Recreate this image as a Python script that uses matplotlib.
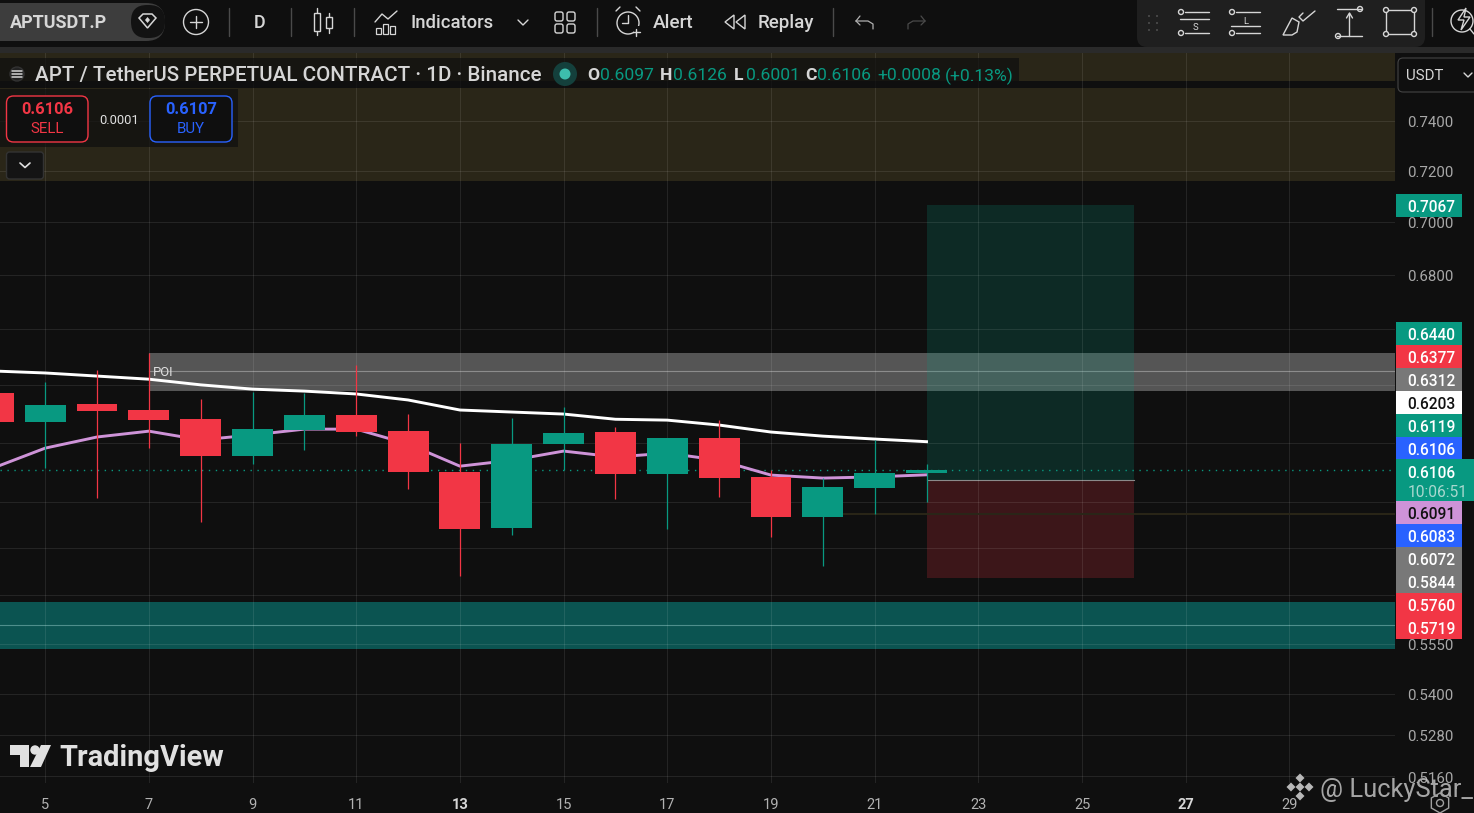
import matplotlib
matplotlib.use('Agg')
import matplotlib.pyplot as plt
from matplotlib.patches import Circle, FancyBboxPatch, Polygon, Rectangle
from matplotlib.ticker import NullFormatter, NullLocator
from matplotlib.transforms import ScaledTranslation
import math

plt.rcParams['font.family'] = ['Roboto', 'DejaVu Sans']

# candles, one per day of the month
days = [4, 5, 6, 7, 8, 9, 10, 11, 12, 13, 14, 15, 16, 17, 18, 19, 20, 21, 22]
opens = [.6371, .6270, .6333, .6312, .6280, .6154, .6243, .6294, .6239, .6100, .5915, .6195, .6236, .6094, .6215, .6084, .5951, .6047, .6097]
highs = [.6371, .6410, .6453, .6513, .6350, .6375, .6371, .6470, .6298, .6198, .6284, .6322, .6253, .6215, .6277, .6106, .6080, .6209, .6126]
lows = [.6270, .6114, .6013, .6181, .5934, .6127, .6174, .6222, .6043, .5761, .5892, .6106, .6010, .5911, .6017, .5886, .5793, .5961, .6001]
closes = [.6270, .6329, .6308, .6277, .6154, .6246, .6294, .6236, .6100, .5911, .6195, .6233, .6094, .6215, .6080, .5951, .6050, .6097, .6106]

ma_slow = [.6449, .6442, .6431, .6420, .6400, .6385, .6378, .6368, .6347, .6312, .6305, .6298, .6280, .6277, .6260, .6236, .6222, .6212, .6203]
ma_fast = [.6114, .6181, .6219, .6239, .6209, .6226, .6246, .6246, .6195, .6120, .6140, .6171, .6151, .6164, .6140, .6090, .6080, .6084, .6091]

date_ticks = [5, 7, 9, 11, 13, 15, 17, 19, 21, 23, 25, 27, 29]
bold_dates = [13, 27]
price_ticks = [.74, .72, .70, .68, .66, .64, .62, .60, .585, .57, .555, .54, .528, .516]
# the ones in the stack of tags can't be seen, so they stay blank
price_labels = ['0.7400', '0.7200', '0.7000', '0.6800', '', '', '', '', '', '', '0.5550', '0.5400', '0.5280', '0.5160']

last_price = .6106
stop_line = .5960
poi_zone = (.6378, .6513, .6449)
teal_zone = (.5534, .5679, .5608)
olive_zones = [(.7160, .7536), (.7565, .7800)]
long_box = (22, 26, .7067, .6072, .5755)

# price tags on the scale, top to bottom
tag_texts = ['0.6440', '0.6377', '0.6312', '0.6203', '0.6119', '0.6106', '0.6091', '0.6083', '0.6072', '0.5844', '0.5760', '0.5719']
tag_colors = ['#089981', '#f23645', '#787878', '#ffffff', '#089981', '#2962ff', '#ce93d8', '#2962ff', '#787878', '#787878', '#f23645', '#f23645']
tag_inks = ['#ffffff', '#ffffff', '#ffffff', '#111111', '#ffffff', '#ffffff', '#111111', '#ffffff', '#ffffff', '#ffffff', '#ffffff', '#ffffff']

BG = '#0f0f0f'
GREEN = '#089981'
RED = '#f23645'
INK = '#d6d6d6'

W, H = 1474, 813
fig = plt.figure(figsize=(W / 100, H / 100), dpi=100, facecolor=BG)

# chart pane, from pixel 53 to 783 down and 0 to 1395 across
ax = fig.add_axes([0, 1 - 783 / H, 1395 / W, 730 / H], facecolor=BG)
ax.set_yscale('log')
ax.set_xlim(4.129, 31.036)
ax.set_ylim(.5141, .7682)

for low, high in olive_zones:
	ax.axhspan(low, high, color='#2a2618', lw=0, zorder=1)
ax.fill_between([7, 31.04], poi_zone[0], poi_zone[1], color='#555555', lw=0, zorder=1)
ax.plot([7, 31.04], [poi_zone[2]] * 2, color='#8c8c8c', lw=.8, zorder=1.2)
ax.axhspan(teal_zone[0], teal_zone[1], color='#0b5451', lw=0, zorder=1)
ax.axhline(teal_zone[2], color='#4f8f8c', lw=.8, zorder=1.2)

x0, x1, target, entry, stop = long_box
ax.fill_between([x0, x1], entry, target, color=GREEN, alpha=.2, lw=0, zorder=1.5)
ax.fill_between([x0, x1], stop, entry, color=RED, alpha=.2, lw=0, zorder=1.5)
ax.plot([x0, x1], [entry, entry], color='#8a8a8a', lw=.8, zorder=1.6)

ax.set_xticks(date_ticks)
ax.set_xticklabels([str(d) for d in date_ticks], fontsize=10.5, color='#b2b2b2')
for lab, d in zip(ax.get_xticklabels(), date_ticks):
	if d in bold_dates:
		lab.set_fontweight('bold')
		lab.set_color('#d6d6d6')
ax.yaxis.tick_right()
ax.set_yticks(price_ticks)
ax.set_yticklabels(price_labels, fontsize=10.8, color='#a8a8a8', va='center_baseline')
ax.yaxis.set_minor_locator(NullLocator())
ax.yaxis.set_minor_formatter(NullFormatter())
ax.tick_params(axis='both', length=0)
ax.tick_params(axis='x', pad=10.6)
ax.tick_params(axis='y', pad=8.8)
for t in ax.yaxis.get_major_ticks():
	# one pixel lower, the way the scale sits in the screenshot
	t.label2.set_transform(t.label2.get_transform() + ScaledTranslation(0, -1 / 100, fig.dpi_scale_trans))
ax.grid(True, color='#ffffff', alpha=.09, lw=.8)
ax.set_axisbelow(False)
for s in ax.spines.values():
	s.set_visible(False)

ax.plot([20.4, 31.04], [stop_line, stop_line], color='#2a2618', lw=1.4, zorder=2.8)
ax.axhline(last_price, color=GREEN, lw=1, ls=(0, (1, 4)), zorder=2.9)
ax.plot(days, ma_fast, color='#ce93d8', lw=2.1, zorder=3)
ax.plot(days, ma_slow, color='#ffffff', lw=2.1, zorder=3.1)

colors = [GREEN if c >= o else RED for o, c in zip(opens, closes)]
ax.vlines(days, lows, highs, colors=colors, lw=.9, zorder=4)
ax.bar(days, [abs(c - o) for o, c in zip(opens, closes)], bottom=[min(o, c) for o, c in zip(opens, closes)],
	width=.79, color=colors, lw=0, zorder=5)
ax.text(7.07, poi_zone[2], 'POI', color='#e0e0e0', fontsize=9.4, va='center_baseline', zorder=6)


# everything around the chart is drawn on a pixel layer
ui = fig.add_axes([0, 0, 1, 1])
ui.set_xlim(0, W)
ui.set_ylim(H, 0)
ui.axis('off')
ui.patch.set_alpha(0)

def box(x0, y0, x1, y1, color, radius=0, edge='none', lw=0, alpha=1, z=2):
	if radius:
		p = FancyBboxPatch((x0 + radius, y0 + radius), x1 - x0 - 2 * radius, y1 - y0 - 2 * radius,
			boxstyle=f'round,pad={radius},rounding_size={radius}', fc=color, ec=edge, lw=lw, alpha=alpha, zorder=z)
	else:
		p = Rectangle((x0, y0), x1 - x0, y1 - y0, fc=color, ec=edge, lw=lw, alpha=alpha, zorder=z)
	ui.add_patch(p)

def seg(xs, ys, color=INK, lw=1, z=4):
	ui.plot(xs, ys, color=color, lw=lw, zorder=z, solid_capstyle='round')

def ring(x, y, r, color=INK, lw=1, fill='none', z=4):
	ui.add_patch(Circle((x, y), r, fc=fill, ec=color, lw=lw, zorder=z))

def label(x, y, s, px=15, color=INK, ha='left', weight='normal', z=5, alpha=1):
	ui.text(x, y + .5, s, fontsize=px * .72, color=color, ha=ha, va='center_baseline', fontweight=weight, zorder=z, alpha=alpha)

# top bar
box(0, 0, W, 47, BG, z=1)
box(0, 47, W, 53, '#2a2a2a', z=1)
box(-20, 3, 165, 41, '#3d3d3d', radius=19)
box(131, 5, 165, 38, '#121212', radius=16, z=3)
label(10, 20.5, 'APTUSDT.P', 18, weight='bold')
ui.add_patch(Polygon([(139, 18), (143, 14), (152, 14), (156, 18), (147.5, 28)], fc='none', ec=INK, lw=1.1, zorder=4))
ui.add_patch(Polygon([(147.5, 17), (150, 20), (147.5, 23), (145, 20)], fc=INK, ec='none', zorder=4))
ring(196, 22, 12.5)
seg([190, 202], [22, 22])
seg([196, 196], [16, 28])
for x in [229, 291, 354, 597, 833]:
	seg([x, x], [8, 36], '#4a4a4a', 1)
label(260, 21, 'D', 18, ha='center', weight='medium')
# candle icon
seg([317, 317], [8, 35])
seg([329, 329], [13, 33])
box(314, 13, 320, 31, BG, edge=INK, lw=1, z=5)
box(326, 17, 332, 28, BG, edge=INK, lw=1, z=5)
# indicators icon
seg([375, 382, 388, 397], [22, 14, 19, 11])
for x, t in [(376, 28), (383, 24), (390, 26)]:
	box(x, t, x + 5, 34, BG, edge=INK, lw=.9)
label(411, 20.5, 'Indicators', 18.5, weight='medium')
seg([518, 523, 528], [20, 25, 20])
for x in [555, 567]:
	for y in [12, 24]:
		box(x, y, x + 8, y + 9, BG, radius=2, edge=INK, lw=1)
# alert icon
ring(628, 23, 11)
seg([628, 628, 622], [15, 23, 23])
seg([616, 620], [11, 7])
seg([636, 640], [7, 11])
box(634, 26, 645, 38, BG, z=4)
seg([636, 636], [29, 36])
seg([633, 640], [32, 32])
label(653, 20.5, 'Alert', 19, weight='medium')
ui.add_patch(Polygon([(734, 15), (725, 22), (734, 29)], fc='none', ec=INK, lw=1))
ui.add_patch(Polygon([(745, 15), (736, 22), (745, 29)], fc='none', ec=INK, lw=1))
label(758, 20.5, 'Replay', 18.8, weight='medium')
seg([856, 860], [21, 16], '#b0b0b0', .9)
seg([856, 860], [21, 25], '#b0b0b0', .9)
seg([856, 868, 873, 873], [21, 21, 24, 29], '#b0b0b0', .9)
seg([925, 921], [21, 16], '#4a4a4a', .9)
seg([925, 921], [21, 25], '#4a4a4a', .9)
seg([925, 913, 908, 908], [21, 21, 24, 29], '#4a4a4a', .9)

# floating drawing toolbar
box(1137, -20, 1425, 47, '#1f1f1f', radius=10, z=2)
for x in [1149, 1157]:
	for y in [16, 23, 30]:
		box(x - 1, y - 1, x + 1, y + 1, '#444444', z=3)
for cx, ch in [(1195, 'S'), (1246, 'L')]:
	ring(cx - 14, 12, 2.5)
	ring(cx - 14, 33, 2.5)
	seg([cx - 10, cx + 14], [12, 12])
	seg([cx - 15, cx + 14], [19 if ch == 'S' else 26, 19 if ch == 'S' else 26])
	seg([cx - 10, cx + 14], [33, 33])
	label(cx, 26 if ch == 'S' else 20, ch, 9.5, ha='center')
ui.add_patch(Polygon([(1283, 35), (1292, 18), (1299, 22), (1297, 32), (1292, 35)], fc='none', ec=INK, lw=1, zorder=4))
seg([1303, 1299, 1303, 1315], [13, 17, 21, 11])
seg([1337, 1362], [9, 9])
ring(1360, 9, 2.5)
seg([1337, 1362], [36, 36])
ring(1338, 36, 2.5)
seg([1349.5, 1349.5], [36, 13])
seg([1346.5, 1349.5, 1352.5], [18, 13, 18])
box(1386, 10, 1414, 34, 'none', edge=INK, lw=1, z=4)
for x in [1386, 1414]:
	for y in [10, 34]:
		ring(x, y, 2.5, fill='#1f1f1f')
seg([1432, 1432], [8, 36], '#4a4a4a', 1)
ring(1462, 21, 11)
seg([1470, 1474], [29, 34])
ui.add_patch(Polygon([(1466, 8), (1458, 20), (1464, 20), (1461, 30), (1470, 17), (1464, 17)], fc=BG, ec=INK, lw=1, zorder=5))

# legend row
box(0, 58, 1019, 88, '#0f0f0f', alpha=.72, z=1.5)
ring(17, 74, 7, '#333333', 1, '#222222')
for y in [71, 74, 77]:
	seg([12, 22], [y, y], INK, 1.1)
label(35, 73, 'APT / TetherUS PERPETUAL CONTRACT · 1D · Binance', 20.65, weight='medium')
ring(565, 74, 12, 'none', 0, '#14403c')
ring(565, 74, 5.5, 'none', 0, '#3dbdad')
for x, vx, letter, val in [(587, 600, 'O', '0.6097'), (660, 673, 'H', '0.6126'), (734, 746, 'L', '0.6001'), (805, 817, 'C', '0.6106')]:
	label(x, 74, letter, 17.5, weight='bold')
	label(vx, 74, val, 17.5, GREEN)
label(877, 74, '+0.0008', 17.5, GREEN)
label(945, 74, '(+0.13%)', 17.5, GREEN)

# order panel
box(0, 89, 238, 147, '#0f0f0f', alpha=.72, z=1.5)
box(6.5, 96, 88, 142, '#0f0f0f', radius=7, edge=RED, lw=1)
label(47, 108, '0.6106', 16.5, RED, ha='center', weight='bold')
label(47, 127, 'SELL', 15, RED, ha='center')
label(119, 118, '0.0001', 13, '#e0e0e0', ha='center')
box(150, 96, 232, 142, '#0f0f0f', radius=7, edge='#2962ff', lw=1)
label(191, 108, '0.6107', 16.5, '#2962ff', ha='center', weight='bold')
label(191, 127, 'BUY', 15, '#2962ff', ha='center')
box(6.5, 152, 43.5, 179, '#141414', radius=3, edge='#333333', lw=1)
seg([20, 25, 30], [163, 167.5, 163], '#e0e0e0', 1.2)

# price scale cover bits and tags
box(1395, 53, W, 92, BG, z=1)
box(1398, 58, 1490, 92, BG, radius=5, edge='#444444', lw=.8)
label(1406, 74.5, 'USDT', 15)
seg([1464, 1468, 1472], [73, 77, 73], INK, 1)

def tag(y0, y1, text, color, ink='#ffffff', right=1462):
	box(1396, y0, right, y1, color, z=3)
	label(1431, (y0 + y1) / 2 if y1 - y0 < 30 else y0 + 12.5, text, 15.5, ink, ha='center', weight='medium')

tag(194, 217, '0.7067', GREEN)
top = 322
for i, (text, color, ink) in enumerate(zip(tag_texts, tag_colors, tag_inks)):
	if i == 6:
		# the last price tag sits between the stacked ones
		tag(459, 501, '0.6106', GREEN, right=W)
		label(1438, 490, '10:06:51', 15.5, '#a8d8cf', ha='center')
		top = 501
	tag(top, top + 23, text, color, ink)
	top += 23

# logo and watermark
ui.add_patch(Polygon([(10, 745), (29, 745), (29, 767), (20, 767), (20, 755), (10, 755)], fc='#e0e0e0', ec='none', zorder=4))
ring(35, 750, 4.7, 'none', 0, '#e0e0e0')
ui.add_patch(Polygon([(41, 745), (51, 745), (41, 767), (30, 767)], fc='#e0e0e0', ec='none', zorder=4))
label(59, 754, 'TradingView', 29, '#e0e0e0', weight='bold')
for dx, dy in [(0, -9), (-9, 0), (9, 0), (0, 9), (0, 0)]:
	c = (1300 + dx, 787 + dy)
	r = 4.5
	ui.add_patch(Polygon([(c[0] - r, c[1]), (c[0], c[1] - r), (c[0] + r, c[1]), (c[0], c[1] + r)], fc='#b8b8b8', ec='none', zorder=6))
label(1320, 786.5, '@ LuckyStar_', 25.5, '#c0c0c0', alpha=.85, z=6)
gear = [(1440 + 10 * math.sin(math.radians(a)), 803 + 10 * math.cos(math.radians(a))) for a in range(0, 360, 60)]
ui.add_patch(Polygon(gear, fc='none', ec='#a0a0a0', lw=1, zorder=6))
ring(1440, 803, 3.5, '#a0a0a0', 1)

plt.savefig('out.png', dpi=100, facecolor=BG)
